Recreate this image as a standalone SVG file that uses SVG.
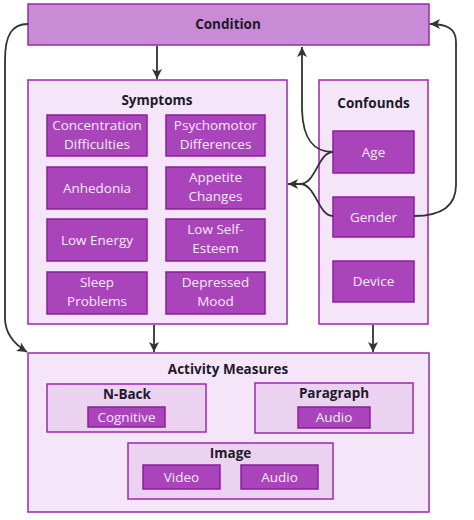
<svg xmlns="http://www.w3.org/2000/svg" width="474" height="520" viewBox="0 0 474 520">
<defs>
<marker id="arr" viewBox="0 0 10 10" refX="10" refY="5" markerWidth="10" markerHeight="10" markerUnits="userSpaceOnUse" orient="auto">
<path d="M0,0 L10,5 L0,10 L2.5,5 z" fill="#333"/>
</marker>
<style>
.cl{fill:#f4e6f8;stroke:#9a2aa8;stroke-width:1.5}
.sub{fill:#ead2f0;stroke:#9a2aa8;stroke-width:1.5}
.nd{fill:#aa44bb;stroke:#8a1f9a;stroke-width:1.5}
.top{fill:#c98ad6;stroke:#9a2aa8;stroke-width:1.5}
.t{font-family:"Open Sans",sans-serif;font-size:13.5px;fill:#f5eaf8;text-anchor:middle}
.h{font-family:"Open Sans",sans-serif;font-size:13.5px;font-weight:bold;fill:#1e1a2a;text-anchor:middle}
.c{fill:none;stroke:#333;stroke-width:1.8}
</style>
</defs>
<rect width="474" height="520" fill="#fff"/>
<g id="condition">
<rect class="top" x="28" y="4" width="401" height="41"/>
<text class="h" x="228" y="29">Condition</text>
</g>
<g id="symptoms">
<rect class="cl" x="28" y="80" width="259" height="244"/>
<text class="h" x="157" y="105">Symptoms</text>
</g>
<g id="concentration"><rect class="nd" x="47" y="115" width="100" height="41"/><text class="t" x="97" y="130">Concentration</text><text class="t" x="97" y="149">Difficulties</text></g>
<g id="psychomotor"><rect class="nd" x="166" y="115" width="99" height="41"/><text class="t" x="215.5" y="130">Psychomotor</text><text class="t" x="215.5" y="149">Differences</text></g>
<g id="anhedonia"><rect class="nd" x="47" y="167" width="100" height="42"/><text class="t" x="97" y="192.5">Anhedonia</text></g>
<g id="appetite"><rect class="nd" x="166" y="167" width="99" height="42"/><text class="t" x="215.5" y="182">Appetite</text><text class="t" x="215.5" y="201">Changes</text></g>
<g id="lowenergy"><rect class="nd" x="47" y="219" width="100" height="42"/><text class="t" x="97" y="244.5">Low Energy</text></g>
<g id="selfesteem"><rect class="nd" x="166" y="219" width="99" height="42"/><text class="t" x="215.5" y="234">Low Self-</text><text class="t" x="215.5" y="253">Esteem</text></g>
<g id="sleep"><rect class="nd" x="47" y="272" width="100" height="42"/><text class="t" x="97" y="287">Sleep</text><text class="t" x="97" y="306">Problems</text></g>
<g id="mood"><rect class="nd" x="166" y="272" width="99" height="42"/><text class="t" x="215.5" y="287">Depressed</text><text class="t" x="215.5" y="306">Mood</text></g>
<g id="confounds">
<rect class="cl" x="319" y="80" width="109" height="244"/>
<text class="h" x="373.5" y="108">Confounds</text>
</g>
<g id="age"><rect class="nd" x="333" y="131" width="81" height="42"/><text class="t" x="373.5" y="156.5">Age</text></g>
<g id="gender"><rect class="nd" x="333" y="197" width="81" height="40"/><text class="t" x="373.5" y="221.5">Gender</text></g>
<g id="device"><rect class="nd" x="333" y="261" width="81" height="41"/><text class="t" x="373.5" y="286">Device</text></g>
<g id="activity">
<rect class="cl" x="28" y="353" width="401" height="159"/>
<text class="h" x="228" y="374">Activity Measures</text>
</g>
<g id="nback">
<rect class="sub" x="47" y="384" width="159" height="48"/>
<text class="h" x="127" y="399">N-Back</text>
<rect class="nd" x="88" y="407" width="77" height="20"/>
<text class="t" x="126.5" y="421.5">Cognitive</text>
</g>
<g id="paragraph">
<rect class="sub" x="255" y="383" width="158" height="50"/>
<text class="h" x="334" y="398">Paragraph</text>
<rect class="nd" x="298" y="407" width="72" height="21"/>
<text class="t" x="334" y="422">Audio</text>
</g>
<g id="image">
<rect class="sub" x="128" y="443" width="205" height="56"/>
<text class="h" x="230.5" y="458">Image</text>
<rect class="nd" x="143" y="465" width="77" height="24"/>
<text class="t" x="181.5" y="481.5">Video</text>
<rect class="nd" x="241" y="465" width="77" height="24"/>
<text class="t" x="279.5" y="481.5">Audio</text>
</g>
<g id="connectors">
<path class="c" d="M157,46 L157,79" marker-end="url(#arr)"/>
<path class="c" d="M154,325 L154,352" marker-end="url(#arr)"/>
<path class="c" d="M373,325 L373,352" marker-end="url(#arr)"/>
<path class="c" d="M333,152 C314,152 303,140 302,110 L302,47" marker-end="url(#arr)"/>
<path class="c" d="M333,152 C318,152 316,184 300,184 L288,184" marker-end="url(#arr)"/>
<path class="c" d="M333,216 C318,216 316,184 300,184"/>
<path class="c" d="M414,216 C442,216 456,205 456,185 L456,42 C456,28 446,24 430,24" marker-end="url(#arr)"/>
<path class="c" d="M28,24 C12,24 5,35 5,60 L5,318 C5,334 14,344 27,352" marker-end="url(#arr)"/>
</g>
</svg>
